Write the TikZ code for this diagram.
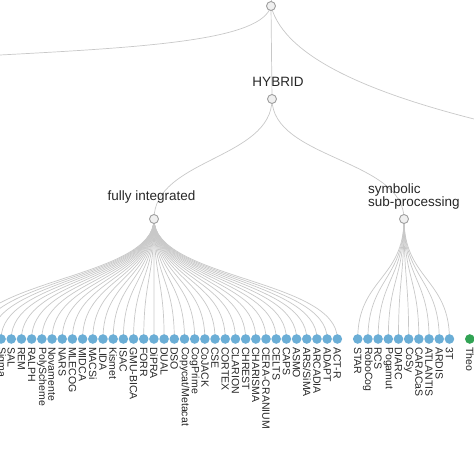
\documentclass[tikz,border=0pt]{standalone}
\usepackage{fontspec}
\setmainfont{Liberation Sans}
\usetikzlibrary{backgrounds}

\definecolor{leafblue}{HTML}{6BAED6}
\definecolor{leafgreen}{HTML}{31A354}
\definecolor{linkgray}{HTML}{C8C8C8}

\begin{document}
\begin{tikzpicture}[x=1pt,y=-1pt,
	inner/.style={circle,draw=gray!75,fill=gray!12,line width=0.9pt,minimum size=9pt,inner sep=0pt},
	leaf/.style={circle,fill=leafblue,minimum size=9.6pt,inner sep=0pt},
	leaflabel/.style={rotate=-90,anchor=west,inner sep=1pt,font=\fontsize{10.5}{12}\selectfont,text=black!85},
	grouplabel/.style={font=\fontsize{13.5}{13}\selectfont,text=black!85},
	link/.style={draw=linkgray,line width=0.7pt}]
	\useasboundingbox (0,0) rectangle (474,474);
	% Inner Nodes %
	\node[inner] (root) at (271,6) {};
	\node[inner] (hybrid) at (272,99) {};
	\node[inner] (fullint) at (154,219) {};
	\node[inner] (symsub) at (404,219) {};
	\coordinate (rootup) at (271,-5);
	\coordinate (leftout) at (0,55);
	\coordinate (rightout) at (474,119);
	\coordinate (fullmid) at (154,279);
	\coordinate (symmid) at (404,279);
	% Group Labels %
	\node[grouplabel] (hybridlabel) at (278,82) {HYBRID};
	\node[grouplabel] (fullintlabel) at (151.5,197) {fully integrated};
	\node[grouplabel,align=left,anchor=west,inner sep=0pt] (symsublabel) at (368,196.5) {symbolic\\sub-processing};
	% Leaves %
	\foreach \i in {0,...,36}
		{\pgfmathsetmacro\lx{-29.5+10.19*\i}
		\node[leaf] (leaf\i) at (\lx,339) {};}
	\foreach \i in {38,...,47}
		{\pgfmathsetmacro\lx{-29.5+10.19*\i}
		\node[leaf] (leaf\i) at (\lx,339) {};}
	\node[leaf,fill=leafgreen] (leaf49) at (469.8,339) {};
	% Leaf Labels %
	\foreach \name [count=\k from 3] in {Sigma,SAL,REM,RALPH,PolyScheme,Novamente,NARS,MLECOG,MIDCA,MACSi,LIDA,Kismet,ISAC,GMU-BICA,FORR,DiPRA,DUAL,DSO,{Copycat/Metacat},CogPrime,CoJACK,CSE,CORTEX,CLARION,CHREST,CHARISMA,CERA-CRANIUM,CELTS,CAPS,ASMO,{ARS/SiMA},ARCADIA,ADAPT,ACT-R}
		\node[leaflabel] (label\k) at ([yshift=-2pt]leaf\k.south) {\name};
	\foreach \name [count=\k from 38] in {STAR,RoboCog,RCS,Pogamut,DIARC,CoSy,CARACaS,ATLANTIS,ARDIS,3T}
		\node[leaflabel] (label\k) at ([yshift=-2pt]leaf\k.south) {\name};
	\node[leaflabel] (label49) at ([yshift=-2pt]leaf49.south) {Theo};
	% Links %
	\begin{scope}[on background layer]
		\draw[link] (root.center) -- (rootup);
		\draw[link] (root.center) -- (hybrid.center);
		\draw[link] (root.center) .. controls (262,40) and (150,47) .. (leftout);
		\draw[link] (root.center) .. controls (285,60) and (380,95) .. (rightout);
		\draw[link] (hybrid.center) .. controls (272,159) and (154,159) .. (fullint.center);
		\draw[link] (hybrid.center) .. controls (272,159) and (404,159) .. (symsub.center);
		\foreach \i in {0,...,36}
			{\draw[link] (fullint.center) .. controls (fullmid) and (leaf\i |- fullmid) .. (leaf\i.center);}
		\foreach \i in {38,...,47}
			{\draw[link] (symsub.center) .. controls (symmid) and (leaf\i |- symmid) .. (leaf\i.center);}
	\end{scope}
\end{tikzpicture}
\end{document}
